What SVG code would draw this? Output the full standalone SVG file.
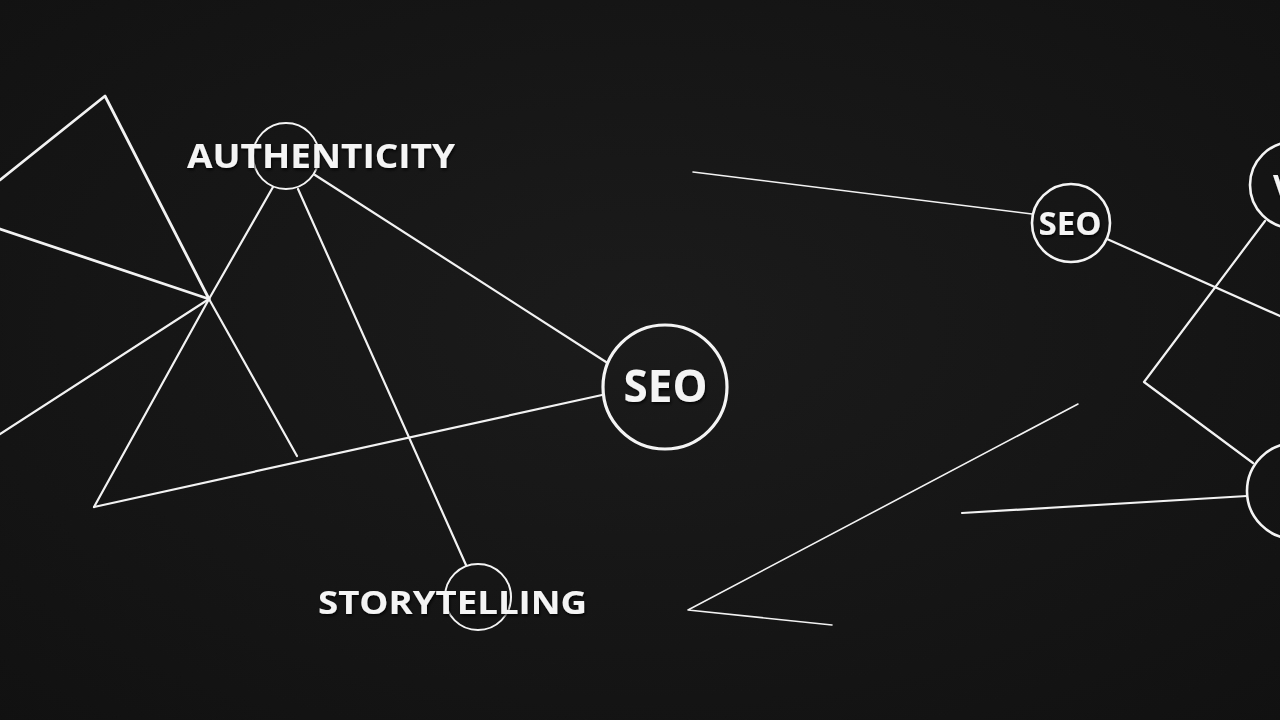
<svg xmlns="http://www.w3.org/2000/svg" width="1280" height="720" viewBox="0 0 1280 720">
<defs>
<radialGradient id="bg" cx="0.5" cy="0.45" r="0.75">
<stop offset="0" stop-color="#1b1b1b"/>
<stop offset="1" stop-color="#111111"/>
</radialGradient>
<filter id="sh" x="-10%" y="-30%" width="120%" height="160%">
<feDropShadow dx="1" dy="2" stdDeviation="1.5" flood-color="#000" flood-opacity="0.8"/>
</filter>
</defs>
<style>
.ln{stroke:#f2f2f2;fill:none;stroke-linecap:round;stroke-linejoin:round}
.t1{stroke-width:2.8}
.t2{stroke-width:2.2}
.t3{stroke-width:1.6}
.nd{fill:none;stroke:#f4f4f4}
.lbl{font-family:"Open Sans","Liberation Sans",sans-serif;font-weight:700;fill:#f4f4f4;filter:url(#sh)}
</style>
<rect width="1280" height="720" fill="url(#bg)"/>
<g id="connectors">
<polyline class="ln t1" points="0,180 105,96 209,299"/>
<line class="ln t1" x1="0" y1="229" x2="209" y2="299"/>
<line class="ln t2" x1="0" y1="434" x2="209" y2="299"/>
<line class="ln t2" x1="209" y1="299" x2="297" y2="456"/>
<line class="ln t2" x1="209" y1="299" x2="94" y2="507"/>
<line class="ln t2" x1="209" y1="299" x2="273" y2="187"/>
<line class="ln t2" x1="94" y1="507" x2="602" y2="395"/>
<line class="ln t2" x1="298" y1="189" x2="466" y2="565"/>
<line class="ln t2" x1="315" y1="175" x2="606" y2="362"/>
<line class="ln t3" x1="693" y1="172" x2="1032" y2="214"/>
<line class="ln t2" x1="1107" y1="239" x2="1280" y2="316"/>
<polyline class="ln t2" points="1265,221 1144,382 1253,463"/>
<line class="ln t2" x1="962" y1="513" x2="1247" y2="496"/>
<polyline class="ln t3" points="1078,404 688,610 832,625"/>
</g>
<g id="node-authenticity">
<circle class="nd" cx="286" cy="156" r="33" stroke-width="2"/>
<text class="lbl" x="187" y="168" font-size="34" textLength="268" lengthAdjust="spacingAndGlyphs">AUTHENTICITY</text>
</g>
<g id="node-storytelling">
<circle class="nd" cx="478" cy="597" r="33" stroke-width="2"/>
<text class="lbl" x="318" y="614" font-size="33" textLength="269" lengthAdjust="spacingAndGlyphs">STORYTELLING</text>
</g>
<g id="node-seo-main">
<circle class="nd" cx="665" cy="387" r="62" stroke-width="3.2"/>
<text class="lbl" x="665.5" y="402" font-size="44" text-anchor="middle">SEO</text>
</g>
<g id="node-seo-right">
<circle class="nd" cx="1071" cy="223" r="39" stroke-width="2.6"/>
<text class="lbl" x="1070" y="235" font-size="33" text-anchor="middle">SEO</text>
</g>
<g id="node-top-right">
<circle class="nd" cx="1293" cy="185" r="43" stroke-width="2.6"/>
<text class="lbl" x="1273" y="197" font-size="31">V</text>
</g>
<g id="node-bottom-right">
<circle class="nd" cx="1295" cy="491" r="48" stroke-width="2.6"/>
</g>
</svg>
